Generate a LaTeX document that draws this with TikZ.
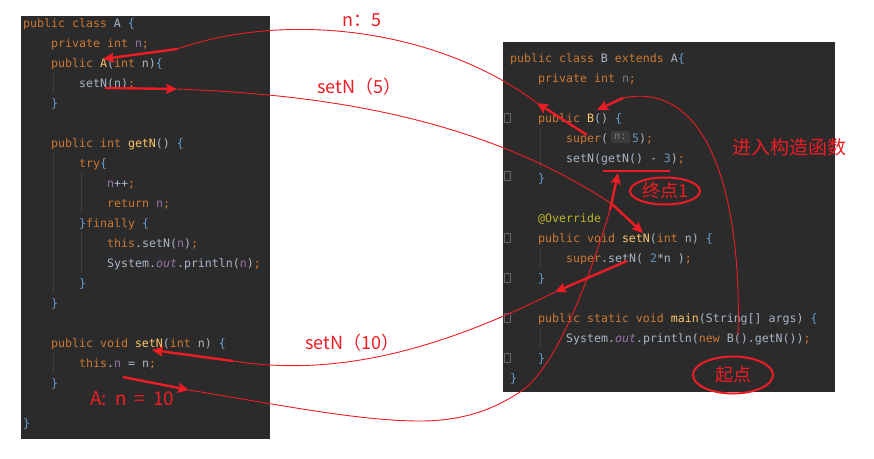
\documentclass[tikz,border=0pt]{standalone}
\usepackage{fontspec}
\setmonofont{DejaVu Sans Mono}
\newfontfamily\cjk{Noto Sans CJK SC}
\usetikzlibrary{arrows.meta,shapes.geometric,positioning}

\definecolor{panelbg}{HTML}{2B2B2B}
\definecolor{codefg}{HTML}{A9B7C6}
\definecolor{kwcol}{HTML}{CC7832}
\definecolor{fieldcol}{HTML}{9876AA}
\definecolor{methcol}{HTML}{FFC66D}
\definecolor{numcol}{HTML}{6897BB}
\definecolor{anncol}{HTML}{BBB529}
\definecolor{bracecol}{HTML}{6A9FD4}
\definecolor{unusedcol}{HTML}{7A7E85}
\definecolor{hintbg}{HTML}{3B3B3B}
\definecolor{hintfg}{HTML}{808080}
\definecolor{guidecol}{HTML}{3F3F3F}
\definecolor{markred}{HTML}{EE1C25}

\newcommand{\kwd}[1]{\textcolor{kwcol}{#1}}
\newcommand{\fld}[1]{\textcolor{fieldcol}{#1}}
\newcommand{\stf}[1]{\textcolor{fieldcol}{\itshape #1}}
\newcommand{\mth}[1]{\textcolor{methcol}{#1}}
\newcommand{\nmb}[1]{\textcolor{numcol}{#1}}
\newcommand{\ann}[1]{\textcolor{anncol}{#1}}
\newcommand{\brc}[1]{\textcolor{bracecol}{#1}}
\newcommand{\unu}[1]{\textcolor{unusedcol}{#1}}
\newcommand{\sem}{\textcolor{kwcol}{;}}
\newcommand{\codefont}{\ttfamily\fontsize{11.6}{14}\selectfont}
\newcommand{\notefont}{\cjk\fontsize{18}{20}\selectfont}
\newcommand{\gap}{\hspace{8pt}}

\begin{document}
\begin{tikzpicture}[x=1pt, y=-1pt,
  code/.style={anchor=base west, inner sep=0pt, text=codefg, font=\codefont},
  hint/.style={rectangle, rounded corners=2pt, fill=hintbg, text=hintfg, inner sep=0pt,
    minimum width=19pt, minimum height=12pt, font=\ttfamily\fontsize{10}{12}\selectfont},
  note/.style={anchor=base west, inner sep=0pt, text=markred, font=\notefont},
  ring/.style={ellipse, draw=markred, line width=2pt, text=markred, inner sep=0pt, font=\notefont},
  jump/.style={draw=markred, line width=2.4pt, -{Stealth[length=11pt,width=10pt,inset=2pt]}},
  trace/.style={draw=markred, line width=0.9pt},
  guide/.style={draw=guidecol, line width=0.8pt},
  foldmark/.style={draw=unusedcol!70!panelbg, line width=0.8pt}]

\useasboundingbox[fill=white] (0,0) rectangle (874,458);

% Panels
\fill[panelbg] (21,16) rectangle (270,439);
\fill[panelbg] (503,42) rectangle (835,392);

% Indent guides and fold marks
\draw[guide] (53,73) -- (53,93) (53,153) -- (53,293) (81,173) -- (81,213)
  (81,233) -- (81,273) (53,353) -- (53,373);
\draw[guide] (540,128) -- (540,168) (540,248) -- (540,268) (540,328) -- (540,348);
\draw[foldmark] (504,113) rectangle +(6,9) (504,171) rectangle +(6,9)
  (504,233) rectangle +(6,9) (504,273) rectangle +(6,9)
  (504,313) rectangle +(6,9) (504,353) rectangle +(6,9);

% Class A
\node[code] (a0) at (23,27) {\kwd{public class} A \brc{\{}};
\node[code] (a1) at (51,47) {\kwd{private int} \fld{n}\sem};
\node[code] (a2) at (51,67) {\kwd{public} \mth{A}(\kwd{int} n)\brc{\{}};
\node[code] (a3) at (79,87) {setN(n)\sem};
\node[code] (a4) at (51,107) {\brc{\}}};
\node[code] (a6) at (51,147) {\kwd{public int} \mth{getN}() \brc{\{}};
\node[code] (a7) at (79,167) {\kwd{try}\brc{\{}};
\node[code] (a8) at (107,187) {\fld{n}++\sem};
\node[code] (a9) at (107,207) {\kwd{return} \fld{n}\sem};
\node[code] (a10) at (79,227) {\brc{\}}\kwd{finally} \brc{\{}};
\node[code] (a11) at (107,247) {\kwd{this}.setN(\fld{n})\sem};
\node[code] (a12) at (107,267) {System.\stf{out}.println(\fld{n})\sem};
\node[code] (a13) at (79,287) {\brc{\}}};
\node[code] (a14) at (51,307) {\brc{\}}};
\node[code] (a16) at (51,347) {\kwd{public void} \mth{setN}(\kwd{int} n) \brc{\{}};
\node[code] (a17) at (79,367) {\kwd{this}.\fld{n} = n\sem};
\node[code] (a18) at (51,387) {\brc{\}}};
\node[code] (a20) at (23,427) {\brc{\}}};

% Class B
\node[code] (b0) at (510,62) {\kwd{public class} B \kwd{extends} A\brc{\{}};
\node[code] (b1) at (538,82) {\kwd{private int} \unu{n}\sem};
\node[code] (b3) at (538,122) {\kwd{public} \mth{B}() \brc{\{}};
\node[code] (b4) at (566,142) {\kwd{super}(};
\node[hint] (b4h) at (620.5,137) {n:};
\node[code] (b4r) at (632,142) {\nmb{5})\sem};
\node[code] (b5) at (566,162) {setN(getN() - \nmb{3})\sem};
\node[code] (b6) at (538,182) {\brc{\}}};
\node[code] (b8) at (538,222) {\ann{@Override}};
\node[code] (b9) at (538,242) {\kwd{public void} \mth{setN}(\kwd{int} n) \brc{\{}};
\node[code] (b10) at (566,262) {\kwd{super}.setN( \nmb{2}*n )\sem};
\node[code] (b11) at (538,282) {\brc{\}}};
\node[code] (b13) at (538,322) {\kwd{public static void} \mth{main}(String[] args) \brc{\{}};
\node[code] (b14) at (566,342) {System.\stf{out}.println(\kwd{new} B().getN())\sem};
\node[code] (b15) at (538,362) {\brc{\}}};
\node[code] (b16) at (510,382) {\brc{\}}};

% Red marks: labels
\node[note] (n5) at (342,26) {n：5};
\node[note] (set5) at (317,93) {setN（5）};
\node[note] (set10) at (305,349) {setN（10）};
\node[note, font=\cjk\fontsize{19}{21}\selectfont] (an10) at (90,405) {A:\gap n\gap =\gap 10};
\node[note, anchor=center, font=\cjk\fontsize{19}{21}\selectfont] (ctor) at (789,147) {进入构造函数};
\node[ring, minimum width=70pt, minimum height=27pt] (end1) at (665,191) {终点1};
\node[ring, minimum width=80pt, minimum height=37pt] (start) at (733,375) {起点};

% Red marks: connectors
\coordinate (p1a) at (587,135);
\coordinate (p1b) at (537,103);
\coordinate (p1c) at (177,49);
\coordinate (p1d) at (103,59);
\draw[jump] (p1a) -- (p1b);
\draw[trace] (p1b) .. controls (440,30) and (290,10) .. (p1c);
\draw[jump] (p1c) -- (p1d);

\coordinate (p2a) at (105,88);
\coordinate (p2b) at (177,89);
\coordinate (p2c) at (612,204);
\coordinate (p2d) at (643,233);
\draw[jump] (p2a) -- (p2b);
\draw[trace] (p2b) .. controls (300,94) and (470,110) .. (p2c);
\draw[jump] (p2c) -- (p2d);

\coordinate (p3a) at (627,261);
\coordinate (p3b) at (555,292);
\coordinate (p3c) at (233,361);
\coordinate (p3d) at (152,350);
\draw[jump] (p3a) -- (p3b);
\draw[trace] (p3b) .. controls (445,347) and (340,378) .. (p3c);
\draw[jump] (p3c) -- (p3d);

\coordinate (p4a) at (123,377);
\coordinate (p4b) at (189,390);
\coordinate (p4m) at (420,421);
\coordinate (p4n) at (520,392);
\coordinate (p4c) at (610,210);
\coordinate (p4d) at (618,173);
\draw[jump] (p4a) -- (p4b);
\draw[trace] (p4b) .. controls (280,405) and (360,421) .. (p4m)
  .. controls (470,421) and (500,405) .. (p4n)
  .. controls (560,366) and (595,260) .. (p4c);
\draw[jump] (p4c) -- (p4d);

\coordinate (u1) at (603,171);
\coordinate (u2) at (670,171);
\draw[trace, line width=1.2pt] (u1) -- (u2);

\coordinate (p5a) at (738,335);
\coordinate (p5b) at (623,98);
\coordinate (p5c) at (597,110);
\draw[trace] (p5a) .. controls (742,200) and (710,80) .. (p5b);
\draw[jump] (p5b) -- (p5c);

\end{tikzpicture}
\end{document}
